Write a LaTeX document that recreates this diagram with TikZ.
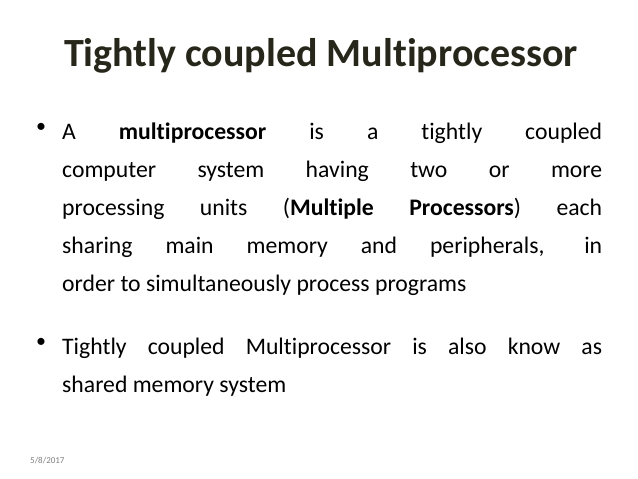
\documentclass[tikz,border=0pt]{standalone}
\usepackage{fontspec}
\setmainfont{Carlito}[RawFeature={-liga;-clig}]
\hyphenpenalty=10000
\begin{document}
\begin{tikzpicture}[x=1pt,y=1pt,
  body/.style={anchor=north west,inner sep=0pt,text width=540pt,align=justify,font=\fontsize{23.7}{38}\selectfont,text=black},
  bul/.style={anchor=north west,inner sep=0pt,font=\fontsize{20}{38}\selectfont}]
\useasboundingbox (0,0) rectangle (638,-479);
\fill[white] (0,0) rectangle (638,-479);
\node[font=\bfseries\fontsize{40}{44}\selectfont,text={rgb,255:red,38;green,38;blue,26}] (title) at (321,-56) {Tightly coupled Multiprocessor};
\node[bul] (b1) at (36,-123) {•};
\node[body] (t1) at (62,-123) {A \textbf{multiprocessor} is a tightly coupled\linebreak computer system having two or more\linebreak processing units (\textbf{Multiple Processors}) each\linebreak sharing main memory and peripherals, in\linebreak order to simultaneously process programs};
\node[bul] (b2) at (36,-338) {•};
\node[body] (t2) at (62,-338) {Tightly coupled Multiprocessor is also know as\linebreak shared memory system};
\node[anchor=west,inner sep=0pt,font=\fontsize{9}{10}\selectfont,text=gray] (date) at (30,-461) {5/8/2017};
\end{tikzpicture}
\end{document}
